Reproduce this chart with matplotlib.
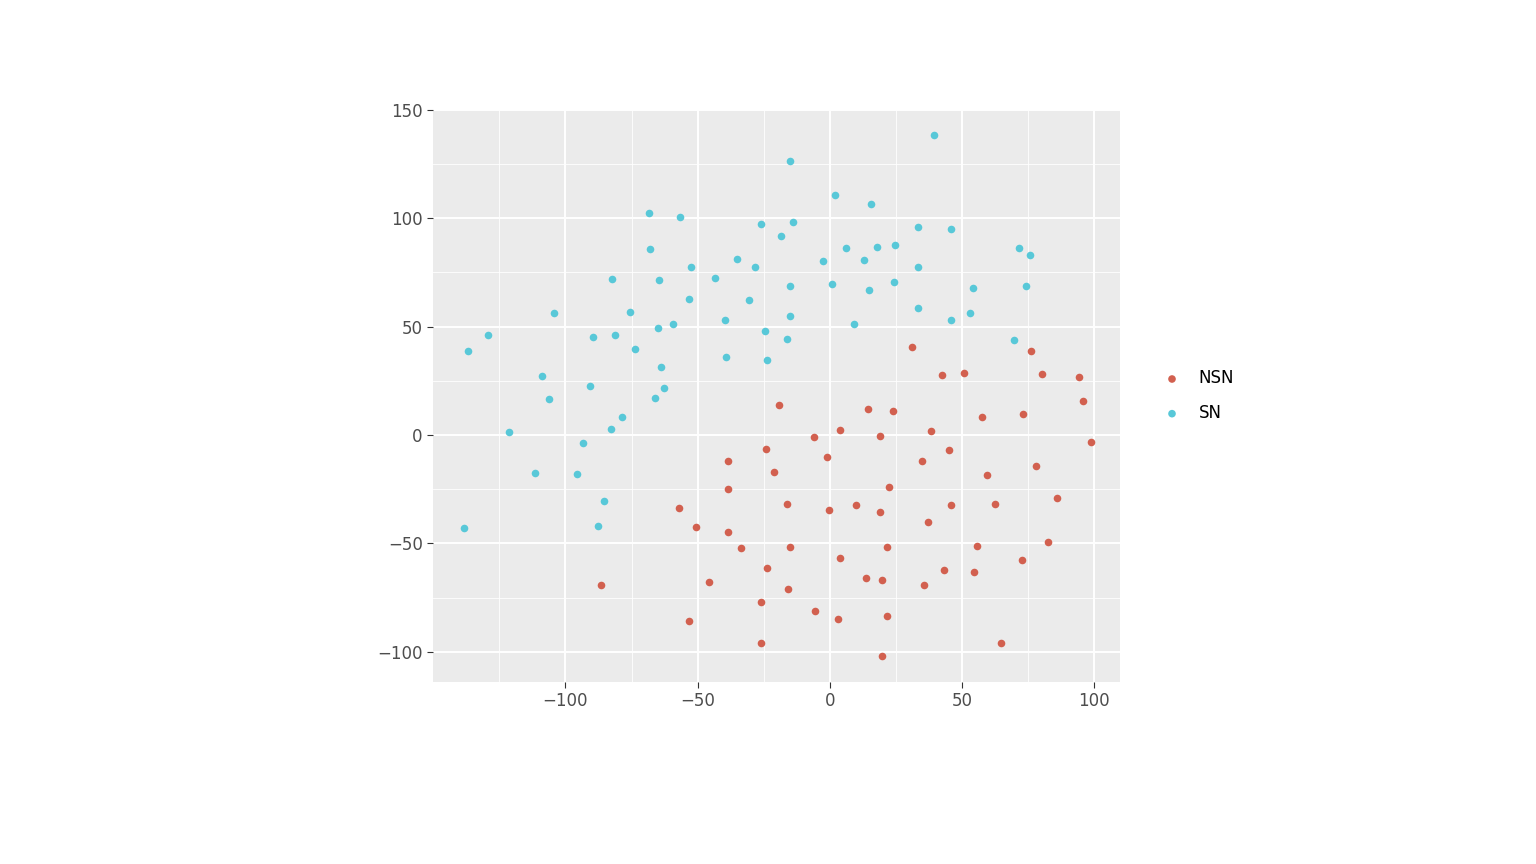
import matplotlib
matplotlib.use("Agg")
import matplotlib.pyplot as plt

# SN (cyan) points
sn_x = [-136.9, -129.3, -138.4, -121.4, -111.5, -108.9, -106.2, -104.3, -95.7, -93.4,
        -90.7, -89.6, -87.7, -85.4, -82.8, -82.4, -81.3, -78.6, -75.6, -73.7,
        -68.1, -68.4, -66.2, -65.0, -64.7, -63.9, -62.8, -59.4, -56.7, -53.3,
        -52.6, -43.5, -39.7, -39.3, -35.2, -30.6, -28.4, -26.1, -24.6, -23.8,
        -18.5, -16.3, -15.1, -15.1, -15.1, -14.0, -2.6, 0.8, 1.9, 6.0,
        9.1, 12.9, 14.7, 15.5, 17.8, 24.2, 24.6, 33.3, 33.3, 33.3,
        39.3, 45.7, 45.7, 52.9, 54.1, 69.6, 71.5, 74.1, 75.6]
sn_y = [38.7, 46.1, -42.9, 1.4, -17.5, 27.2, 16.6, 56.2, -18.0, -3.7,
        22.6, 45.2, -41.9, -30.4, 2.8, 71.9, 46.1, 8.3, 56.7, 39.6,
        85.7, 102.3, 17.1, 49.3, 71.4, 31.3, 21.7, 51.2, 100.5, 62.7,
        77.4, 72.4, 53.0, 35.9, 81.1, 62.2, 77.4, 97.2, 47.9, 34.6,
        91.7, 44.2, 126.3, 68.7, 54.8, 98.2, 80.2, 69.6, 110.6, 86.2,
        51.2, 80.6, 66.8, 106.5, 86.6, 70.5, 87.6, 95.9, 77.4, 58.5,
        138.2, 53.0, 94.9, 56.2, 67.7, 43.8, 86.2, 68.7, 82.9]

# NSN (red) points
nsn_x = [-86.6, -57.1, -53.3, -50.7, -45.7, -38.6, -38.6, -38.6, -33.6, -26.1,
         -26.1, -24.2, -23.8, -21.2, -19.3, -16.3, -15.9, -15.1, -5.7, -6.0,
         -1.1, -0.4, 3.0, 3.8, 3.8, 9.8, 13.6, 14.4, 18.9, 18.9,
         19.7, 19.7, 21.6, 21.6, 22.3, 23.8, 31.0, 34.8, 35.5, 37.0,
         38.2, 42.3, 43.1, 45.0, 45.7, 50.7, 55.6, 54.4, 57.5, 59.4,
         62.4, 64.7, 72.6, 73.0, 76.0, 77.9, 80.2, 82.4, 85.8, 94.1,
         95.7, 98.7]
nsn_y = [-69.1, -33.6, -85.7, -42.4, -67.7, -12.0, -24.9, -44.7, -52.1, -95.9,
         -77.0, -6.5, -61.3, -17.0, 13.8, -31.8, -71.0, -51.6, -81.1, -0.9,
         -10.1, -34.6, -84.8, 2.3, -56.7, -32.3, -65.9, 12.0, -35.5, -0.5,
         -101.8, -66.8, -83.4, -51.6, -24.0, 11.1, 40.6, -12.0, -69.1, -40.1,
         1.8, 27.6, -62.2, -6.9, -32.3, 28.6, -51.2, -63.1, 8.3, -18.4,
         -31.8, -95.9, -57.6, 9.7, 38.7, -14.3, 28.1, -49.3, -29.0, 26.7,
         15.7, -3.2]

fig = plt.figure(figsize=(15.36, 8.64), dpi=100, facecolor="white")
ax = fig.add_axes([0.282, 0.211, 0.447, 0.662], facecolor="#EBEBEB")

red, cyan = "#D2604F", "#58C8D8"
ax.scatter(nsn_x, nsn_y, s=30, color=red, label="NSN", zorder=3, linewidths=0)
ax.scatter(sn_x, sn_y, s=30, color=cyan, label="SN", zorder=3, linewidths=0)

ax.set_xlim(-150, 109.6)
ax.set_ylim(-113.8, 149.8)
ax.set_xticks([-100, -50, 0, 50, 100])
ax.set_yticks([-100, -50, 0, 50, 100, 150])
ax.set_xticks([-125, -75, -25, 25, 75], minor=True)
ax.set_yticks([-75, -25, 25, 75, 125], minor=True)
ax.set_xticklabels(["\u2212100", "\u221250", "0", "50", "100"])
ax.set_yticklabels(["\u2212100", "\u221250", "0", "50", "100", "150"])
ax.grid(which="major", color="white", linewidth=1.4, zorder=0)
ax.grid(which="minor", color="white", linewidth=0.6, zorder=0)
ax.set_axisbelow(True)
for s in ax.spines.values():
    s.set_visible(False)
ax.tick_params(which="major", colors="#4D4D4D", labelsize=12, length=4, color="#333333")
ax.tick_params(which="minor", length=0)

leg = ax.legend(loc="center left", bbox_to_anchor=(1.03, 0.5), frameon=False,
                fontsize=12, handletextpad=0.6, labelspacing=1.0, markerscale=1.0)
for h in leg.legend_handles:
    h.set_edgecolor("none")

fig.savefig("out.png", dpi=100, facecolor="white")
